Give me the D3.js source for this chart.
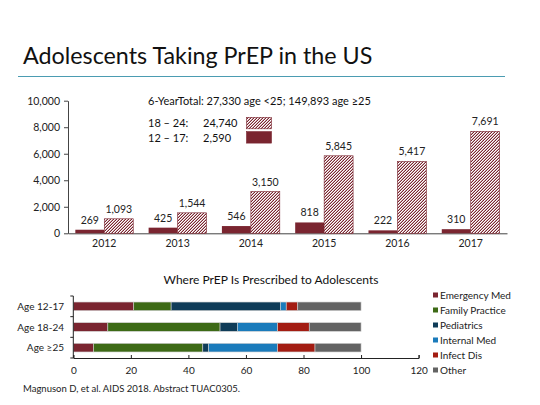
<!DOCTYPE html>
<html>
<head>
<meta charset="utf-8">
<script src="https://cdn.jsdelivr.net/npm/d3@7"></script>
<style>
    body { margin: 0; background: #fff; }
    svg { display: block; font-family: Lato, "Open Sans", sans-serif; }
</style>
</head>
<body>
<div id="chart"></div>
<script>

// top chart: people taking PrEP per year
const years = ["2012", "2013", "2014", "2015", "2016", "2017"];
const age12to17 = [269, 425, 546, 818, 222, 310];
const age18to24 = [1093, 1544, 3150, 5845, 5417, 7691];
const countTicks = [0, 2000, 4000, 6000, 8000, 10000];
const totalLabel = "6-YearTotal:  27,330 age <25; 149,893 age  \u226525";
const legendRows = [["18 \u2013 24:", "24,740"], ["12 \u2013 17:", "2,590"]];

// bottom chart: where PrEP is prescribed (% of prescriptions)
const ageGroups = ["Age 12-17", "Age 18-24", "Age \u226525"];
const specialties = ["Emergency Med", "Family Practice", "Pediatrics", "Internal Med", "Infect Dis", "Other"];
const share12to17 = [21, 13, 38, 2, 4, 22];
const share18to24 = [12, 39, 6, 14, 11, 18];
const share25plus = [7, 38, 2, 24, 13, 16];
const percentTicks = [0, 20, 40, 60, 80, 100, 120];

const maroon = "#7a2530";
const specColors = ["#7a2530", "#3d6a16", "#0f3c58", "#1a7bbb", "#a31c12", "#636363"];

let svg = d3.select("#chart").append("svg")
    .attr("width", 540)
    .attr("height", 405);

// title + rule
svg.append("text")
    .attr("x", 23)
    .attr("y", 64)
    .attr("font-size", 23.3)
    .attr("fill", "#111")
    .text("Adolescents Taking PrEP in the US");

svg.append("line")
    .attr("x1", 18).attr("x2", 505)
    .attr("y1", 76.5).attr("y2", 76.5)
    .attr("stroke", "#4b9cb2")
    .attr("stroke-width", 1.2);

// hatch pattern for the 18-24 bars ("/" stripes, pixel sized)
let defs = svg.append("defs");
let hatch = defs.append("pattern")
    .attr("id", "hatch")
    .attr("patternUnits", "userSpaceOnUse")
    .attr("width", 3)
    .attr("height", 3);
hatch.append("rect").attr("width", 3).attr("height", 3).attr("fill", "#fff");
[[2, 0], [1, 1], [0, 2]].forEach(p => {
    hatch.append("rect")
        .attr("x", p[0]).attr("y", p[1])
        .attr("width", 1).attr("height", 1)
        .attr("fill", maroon);
});
[[1, 0], [0, 1], [2, 2]].forEach(p => {
    hatch.append("rect")
        .attr("x", p[0]).attr("y", p[1])
        .attr("width", 1).attr("height", 1)
        .attr("fill", maroon)
        .attr("fill-opacity", 0.4);
});

/*
 * Top chart: grouped bars
 */
let upper = { left: 68, right: 507, top: 100.7, bottom: 233.3 };

let xYear = d3.scaleBand()
    .domain(years)
    .range([upper.left, upper.right])
    .paddingInner(0.21)
    .paddingOuter(0.1);

let xSub = d3.scaleBand()
    .domain(["12-17", "18-24"])
    .range([0, xYear.bandwidth()]);

let yCount = d3.scaleLinear()
    .domain([0, 10000])
    .range([upper.bottom, upper.top]);

let yAxis = d3.axisLeft(yCount)
    .tickValues(countTicks)
    .tickFormat(d3.format(","))
    .tickSizeInner(4)
    .tickSizeOuter(0)
    .tickPadding(4);

let gy = svg.append("g")
    .attr("transform", "translate(" + upper.left + ",0)")
    .call(yAxis);
gy.selectAll("text").attr("font-size", 10.5).attr("fill", "#222").attr("font-family", "Lato");
gy.selectAll("line, path").attr("stroke", "#444");

let xAxis = d3.axisBottom(xYear)
    .tickSize(0)
    .tickPadding(6);

let gx = svg.append("g")
    .attr("transform", "translate(0," + upper.bottom + ")")
    .call(xAxis);
gx.selectAll("text").attr("font-size", 10.5).attr("fill", "#222").attr("font-family", "Lato");
gx.select("path").attr("stroke", "#444");

let yearData = years.map((y, i) => ({ year: y, young: age12to17[i], older: age18to24[i] }));

let groups = svg.selectAll(".year-group")
    .data(yearData)
    .enter()
    .append("g")
    .attr("class", "year-group")
    .attr("transform", d => "translate(" + xYear(d.year) + ",0)");

groups.append("rect")
    .attr("x", xSub("12-17"))
    .attr("y", d => yCount(d.young))
    .attr("width", xSub.bandwidth())
    .attr("height", d => yCount(0) - yCount(d.young))
    .attr("fill", maroon);

// the group is translated, so hatch rects are drawn in a plain user space instead
svg.append("g")
    .selectAll("rect")
    .data(yearData)
    .enter()
    .append("rect")
    .attr("x", d => xYear(d.year) + xSub("18-24"))
    .attr("y", d => yCount(d.older))
    .attr("width", xSub.bandwidth())
    .attr("height", d => yCount(0) - yCount(d.older))
    .attr("fill", "url(#hatch)")
    .attr("stroke", maroon)
    .attr("stroke-width", 0.6);

groups.append("text")
    .attr("x", xSub("12-17") + xSub.bandwidth() / 2)
    .attr("y", d => yCount(d.young) - 6)
    .attr("text-anchor", "middle")
    .attr("font-size", 10.5)
    .attr("fill", "#222")
    .text(d => d3.format(",")(d.young));

groups.append("text")
    .attr("x", xSub("18-24") + xSub.bandwidth() / 2)
    .attr("y", d => yCount(d.older) - 6)
    .attr("text-anchor", "middle")
    .attr("font-size", 10.5)
    .attr("fill", "#222")
    .text(d => d3.format(",")(d.older));

// totals box
svg.append("text")
    .attr("x", 148)
    .attr("y", 104.5)
    .attr("font-size", 11)
    .attr("fill", "#111")
    .text(totalLabel);

legendRows.forEach((row, i) => {
    let cy = 123.3 + i * 14.3;
    svg.append("text")
        .attr("x", 148).attr("y", cy + 4)
        .attr("font-size", 11).attr("fill", "#111")
        .text(row[0]);
    svg.append("text")
        .attr("x", 203).attr("y", cy + 4)
        .attr("font-size", 11).attr("fill", "#111")
        .text(row[1]);
    svg.append("rect")
        .attr("x", 246.5).attr("y", cy - 6)
        .attr("width", 25).attr("height", 11.5)
        .attr("fill", i === 0 ? "url(#hatch)" : maroon)
        .attr("stroke", maroon)
        .attr("stroke-width", 0.6);
});

/*
 * Bottom chart: stacked 100% bars
 */
let lower = { left: 73.3, right: 418.6, top: 296, bottom: 358 };

svg.append("text")
    .attr("x", 271)
    .attr("y", 283.5)
    .attr("text-anchor", "middle")
    .attr("font-size", 12)
    .attr("fill", "#111")
    .text("Where PrEP Is Prescribed to Adolescents");

let xPct = d3.scaleLinear()
    .domain([0, 120])
    .range([lower.left, lower.right]);

let yAge = d3.scaleBand()
    .domain(ageGroups)
    .range([lower.top, lower.bottom]);

let shares = [share12to17, share18to24, share25plus];
let stackRows = ageGroups.map((g, i) => {
    let row = { group: g };
    specialties.forEach((s, k) => row[s] = shares[i][k]);
    return row;
});
let series = d3.stack().keys(specialties)(stackRows);

let barH = 8.6;
svg.append("g")
    .selectAll("g")
    .data(series)
    .enter()
    .append("g")
    .attr("fill", (d, i) => specColors[i])
    .selectAll("rect")
    .data(d => d)
    .enter()
    .append("rect")
    .attr("x", d => xPct(d[0]))
    .attr("y", d => yAge(d.data.group) + yAge.bandwidth() / 2 - barH / 2)
    .attr("width", d => xPct(d[1]) - xPct(d[0]))
    .attr("height", barH)
    .attr("stroke", "#cfcfcf")
    .attr("stroke-width", 0.6);

let pctAxis = d3.axisBottom(xPct)
    .tickValues(percentTicks)
    .tickSizeInner(-3)
    .tickSizeOuter(-3)
    .tickPadding(9);

let gpx = svg.append("g")
    .attr("transform", "translate(0," + lower.bottom + ")")
    .call(pctAxis);
gpx.selectAll("text").attr("font-size", 10).attr("fill", "#222").attr("font-family", "Lato");
gpx.selectAll("line, path").attr("stroke", "#222");

// category axis with ticks at band edges
svg.append("line")
    .attr("x1", lower.left).attr("x2", lower.left)
    .attr("y1", lower.top).attr("y2", lower.bottom)
    .attr("stroke", "#222");

svg.append("g")
    .selectAll("line")
    .data([0].concat(ageGroups.map(g => yAge(g) + yAge.bandwidth() - lower.top)))
    .enter()
    .append("line")
    .attr("x1", lower.left - 3).attr("x2", lower.left)
    .attr("y1", d => lower.top + d).attr("y2", d => lower.top + d)
    .attr("stroke", "#222");

svg.append("g")
    .selectAll("text")
    .data(ageGroups)
    .enter()
    .append("text")
    .attr("x", 64)
    .attr("y", d => yAge(d) + yAge.bandwidth() / 2 + 3.5)
    .attr("text-anchor", "end")
    .attr("font-size", 10)
    .attr("fill", "#222")
    .text(d => d);

// legend
let legend = svg.append("g")
    .selectAll("g")
    .data(specialties)
    .enter()
    .append("g")
    .attr("transform", (d, i) => "translate(433," + (295 + i * 15) + ")");

legend.append("rect")
    .attr("x", 0).attr("y", -2.5)
    .attr("width", 5).attr("height", 5)
    .attr("fill", (d, i) => specColors[i]);

legend.append("text")
    .attr("x", 7)
    .attr("y", 3.5)
    .attr("font-size", 10)
    .attr("fill", "#222")
    .text(d => d);

// source note
svg.append("text")
    .attr("x", 23)
    .attr("y", 391.5)
    .attr("font-size", 9.5)
    .attr("fill", "#222")
    .text("Magnuson D, et al. AIDS 2018. Abstract TUAC0305.");

</script>
</body>
</html>
